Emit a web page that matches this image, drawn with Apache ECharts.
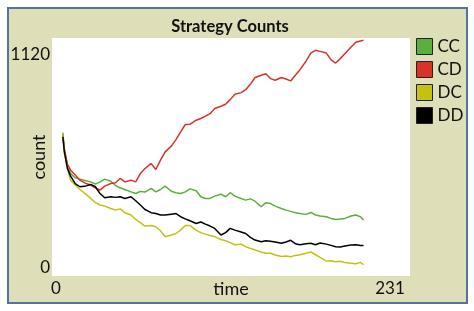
<!DOCTYPE html>
<html lang="en">
<head>
  <meta charset="UTF-8">
  <title>Strategy Counts</title>
  <style>
    * { margin: 0; padding: 0; }
    body { background: #fff; }
    #main { width: 474px; height: 311px; }
  </style>
</head>
<body>
  <div id="main"></div>
  <script src="https://cdn.jsdelivr.net/npm/echarts@6/dist/echarts.min.js"></script>
  <script>
    // time ticks the curves were read at
    const times = [7, 8, 10, 12, 15, 18, 22, 25, 28, 31, 34, 38, 41, 44, 47, 51, 54, 57, 60, 64,
      67, 70, 73, 77, 80, 83, 86, 89, 93, 96, 99, 102, 105, 109, 112, 115, 118, 122, 125, 128,
      131, 135, 138, 141, 144, 148, 151, 154, 157, 160, 164, 167, 170, 173, 177, 180, 183, 186,
      189, 193, 196, 199, 201]

    const ccCounts = [675, 592, 514, 482, 462, 456, 448, 443, 432, 443, 456, 446, 426, 415, 407, 396, 388, 398, 395, 412,
      396, 407, 423, 399, 392, 388, 396, 410, 401, 373, 365, 365, 376, 385, 373, 392, 376, 365, 357, 363,
      352, 326, 345, 341, 329, 318, 310, 304, 298, 294, 290, 299, 287, 282, 279, 271, 266, 268,
      271, 282, 287, 279, 263]
    const cdCounts = [663, 592, 526, 498, 475, 451, 435, 428, 415, 404, 423, 435, 439, 459, 443, 451, 443, 482, 506, 529,
      501, 545, 584, 611, 642, 678, 713, 714, 733, 741, 752, 764, 788, 799, 808, 830, 855, 863, 877, 902,
      934, 945, 952, 929, 921, 934, 927, 918, 945, 971, 1012, 1049, 1062, 1057, 1049, 1018, 1002, 1023,
      1046, 1078, 1100, 1106, 1109]
    const dcCounts = [663, 576, 506, 451, 428, 407, 384, 365, 345, 334, 329, 318, 310, 316, 298, 287, 266, 251, 235, 238,
      232, 213, 185, 193, 200, 216, 238, 238, 216, 204, 197, 191, 185, 172, 166, 157, 147, 150, 138, 130,
      122, 113, 107, 107, 99, 92, 94, 91, 97, 100, 107, 113, 100, 88, 70, 72, 67, 69,
      63, 60, 58, 64, 53]
    const ddCounts = [655, 584, 506, 470, 435, 420, 424, 431, 420, 388, 368, 373, 370, 373, 365, 373, 354, 334, 313, 298,
      294, 287, 287, 291, 294, 279, 269, 260, 247, 254, 244, 235, 224, 193, 204, 224, 216, 207, 200, 182,
      169, 161, 166, 163, 160, 154, 160, 168, 152, 147, 152, 154, 147, 155, 150, 144, 138, 136,
      141, 146, 147, 144, 143]

    const names = ['CC', 'CD', 'DC', 'DD']
    const colors = ['#59b03c', '#d9322a', '#c4c20e', '#000000']
    const xTicks = [0, 231]
    const yTicks = [0, 1120]

    let charts = echarts.init(document.getElementById('main'))
    const font = 'Lato, "Open Sans", sans-serif'

    function pairs(vals) {
      return times.map((t, i) => [t, vals[i]])
    }

    let option = {
      animation: false,
      textStyle: { fontFamily: font },
      // tan panel with blue frame
      graphic: [{
        type: 'rect',
        z: -10,
        silent: true,
        shape: { x: 8, y: 8, width: 459, height: 295 },
        style: { fill: '#dedeb8', stroke: '#5472a6', lineWidth: 2 }
      }],
      title: {
        text: 'Strategy Counts',
        left: 225,
        top: 13,
        textAlign: 'center',
        textStyle: { fontFamily: font, fontWeight: 'bold', fontSize: 16.5, color: '#111' }
      },
      legend: {
        orient: 'vertical',
        left: 416,
        top: 38,
        padding: 0,
        icon: 'rect',
        itemWidth: 16,
        itemHeight: 16,
        itemGap: 6,
        itemStyle: { borderColor: '#222', borderWidth: 1 },
        textStyle: { fontFamily: font, fontSize: 17, color: '#111', lineHeight: 16 },
        data: names
      },
      grid: {
        left: 52,
        top: 38,
        right: 64,
        bottom: 35,
        containLabel: false,
        outerBoundsMode: 'none',
        show: true,
        backgroundColor: '#fff',
        borderWidth: 0
      },
      xAxis: {
        type: 'value',
        min: xTicks[0],
        max: xTicks[1],
        interval: xTicks[1] - xTicks[0],
        name: 'time',
        nameLocation: 'middle',
        nameGap: 4,
        nameMoveOverlap: false,
        nameTextStyle: { fontFamily: font, fontSize: 18, color: '#111', verticalAlign: 'top' },
        axisLine: { show: false },
        axisTick: { show: false },
        splitLine: { show: false },
        axisLabel: {
          margin: 4,
          fontSize: 17,
          color: '#111',
          formatter: v => v === xTicks[0] ? '{lo|' + v + '}' : '{hi|' + v + '}',
          rich: {
            lo: { fontSize: 17, fontFamily: font, color: '#111', padding: [0, 0, 0, 8] },
            hi: { fontSize: 17, fontFamily: font, color: '#111', padding: [0, 40, 0, 0] }
          }
        }
      },
      yAxis: {
        type: 'value',
        min: yTicks[0],
        max: yTicks[1],
        interval: yTicks[1] - yTicks[0],
        name: 'count',
        nameLocation: 'middle',
        nameRotate: 90,
        nameGap: 4,
        nameMoveOverlap: false,
        nameTextStyle: { fontFamily: font, fontSize: 18, color: '#111' },
        axisLine: { show: false },
        axisTick: { show: false },
        splitLine: { show: false },
        axisLabel: {
          margin: 2,
          fontSize: 17,
          color: '#111',
          formatter: v => v === yTicks[0] ? '{lo|' + v + '}' : '{hi|' + v + '}',
          rich: {
            lo: { fontSize: 17, fontFamily: font, color: '#111', padding: [0, 0, 16, 0] },
            hi: { fontSize: 17, fontFamily: font, color: '#111', padding: [34, 0, 0, 0] }
          }
        }
      },
      series: [ccCounts, cdCounts, dcCounts, ddCounts].map((vals, i) => ({
        name: names[i],
        type: 'line',
        data: pairs(vals),
        showSymbol: false,
        color: colors[i],
        lineStyle: { width: 1.5, color: colors[i] }
      }))
    }
    charts.setOption(option)
  </script>
</body>
</html>
